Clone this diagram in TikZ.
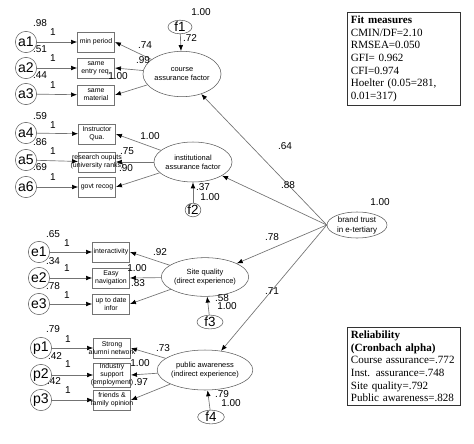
\documentclass[tikz,border=0pt]{standalone}
\usepackage{fontspec}
\setmainfont{Liberation Sans}
\newfontfamily\timesf{Liberation Serif}
\usetikzlibrary{arrows.meta,shapes.geometric,positioning}

\begin{document}
\begin{tikzpicture}[x=0.75pt,y=-0.75pt]
\tikzset{
  errnode/.style={circle,draw=black!65,minimum size=16pt,inner sep=0pt,font=\fontsize{10.5}{11}\selectfont},
  disnode/.style={ellipse,draw=black!65,inner sep=0pt,font=\fontsize{10}{11}\selectfont},
  itembox/.style={rectangle,draw=black!55,minimum width=28pt,minimum height=15pt,inner xsep=-8pt,inner ysep=0.5pt,align=center,font=\fontsize{5.2}{5.9}\selectfont},
  factor/.style={ellipse,draw=black!65,inner sep=0pt,align=center,font=\fontsize{5.6}{7}\selectfont},
  coef/.style={inner sep=0pt,font=\fontsize{7.5}{8}\selectfont},
  infobox/.style={rectangle,draw=black!80,thick,text width=80pt,inner sep=2.5pt,align=left,font=\timesf\fontsize{8.3}{9.5}\selectfont},
  directed/.style={draw=black!55,-{Latex[length=4.5pt,width=3.5pt,color=black]},line width=0.5pt}
}
\useasboundingbox (0,0) rectangle (474,443);
% error terms
\node[errnode] (n_a1) at (26,42) {a1};
\node[errnode] (n_a2) at (26,68) {a2};
\node[errnode] (n_a3) at (26,94) {a3};
\node[errnode] (n_a4) at (26,133) {a4};
\node[errnode] (n_a5) at (26,160) {a5};
\node[errnode] (n_a6) at (26,187) {a6};
\node[errnode] (n_e1) at (39,252) {e1};
\node[errnode] (n_e2) at (39,278) {e2};
\node[errnode] (n_e3) at (39,304) {e3};
\node[errnode] (n_p1) at (41,348) {p1};
\node[errnode] (n_p2) at (41,375) {p2};
\node[errnode] (n_p3) at (41,400) {p3};
% observed items
\node[itembox] (n_minper) at (96,42) {min period};
\node[itembox] (n_entry) at (96,68) {same\\entry req.};
\node[itembox] (n_mater) at (96,95) {same\\material};
\node[itembox] (n_instr) at (97,134) {Instructor\\Qua.};
\node[itembox] (n_resea) at (97,162) {research ouputs\\(university ranks)};
\node[itembox] (n_govt) at (97,187) {govt recog};
\node[itembox] (n_inter) at (111,252) {interactivity};
\node[itembox] (n_easy) at (111,278) {Easy\\navigation};
\node[itembox] (n_uptod) at (111,304) {up to date\\infor};
\node[itembox] (n_alumn) at (112,348) {Strong\\alumni network};
\node[itembox,minimum height=18pt] (n_indus) at (112,375) {Industry\\support\\(employment)};
\node[itembox] (n_frien) at (112,400) {friends \&\\family opinion};
% latent factors
\node[factor,minimum width=46pt,minimum height=34pt] (n_fc) at (182,74) {course\\assurance factor};
\node[factor,minimum width=55pt,minimum height=30pt] (n_fi) at (193,162) {institutional\\assurance factor};
\node[factor,minimum width=52pt,minimum height=29pt] (n_fs) at (205,277) {Site quality\\(direct experience)};
\node[factor,minimum width=53pt,minimum height=30pt] (n_fp) at (205,370) {public awareness\\(indirect experience)};
\node[factor,minimum width=45pt,minimum height=19.5pt,font=\fontsize{6}{7.5}\selectfont] (n_bt) at (357,225) {brand trust\\in e-tertiary};
% disturbances
\node[disnode,minimum width=18pt,minimum height=10pt] (n_f1) at (180,27) {f1};
\node[disnode,minimum width=11pt,minimum height=9pt] (n_f2) at (193,210) {f2};
\node[disnode,minimum width=19.5pt,minimum height=8pt] (n_f3) at (210,322) {f3};
\node[disnode,minimum width=20pt,minimum height=8pt] (n_f4) at (211,417) {f4};
% info boxes
\node[infobox,anchor=north west] (n_fit) at (347,12) {\textbf{Fit measures}\\CMIN/DF=2.10\\RMSEA=0.050\\GFI= 0.962\\CFI=0.974\\Hoelter (0.05=281,\\0.01=317)};
\node[infobox,anchor=north west] (n_rel) at (347,327) {\textbf{Reliability}\\\textbf{(Cronbach alpha)}\\Course assurance=.772\\Inst. assurance=.748\\Site quality=.792\\Public awareness=.828};
% error paths
\draw[directed] (n_a1) -- (n_minper);
\draw[directed] (n_a2) -- (n_entry);
\draw[directed] (n_a3) -- (n_mater);
\draw[directed] (n_a4) -- (n_instr);
\draw[directed] (n_a5) -- (n_resea);
\draw[directed] (n_a6) -- (n_govt);
\draw[directed] (n_e1) -- (n_inter);
\draw[directed] (n_e2) -- (n_easy);
\draw[directed] (n_e3) -- (n_uptod);
\draw[directed] (n_p1) -- (n_alumn);
\draw[directed] (n_p2) -- (n_indus);
\draw[directed] (n_p3) -- (n_frien);
% loadings
\draw[directed] (n_fc) -- (n_minper.east);
\draw[directed] (n_fc) -- (n_entry.east);
\draw[directed] (n_fc) -- (n_mater.east);
\draw[directed] (n_fi) -- (n_instr.east);
\draw[directed] (n_fi) -- (n_resea.east);
\draw[directed] (n_fi) -- (n_govt.east);
\draw[directed] (n_fs) -- (n_inter.east);
\draw[directed] (n_fs) -- (n_easy.east);
\draw[directed] (n_fs) -- (n_uptod.east);
\draw[directed] (n_fp) -- (n_alumn.east);
\draw[directed] (n_fp) -- (n_indus.east);
\draw[directed] (n_fp) -- (n_frien.east);
% disturbance paths
\draw[directed] (n_f1) -- (n_fc);
\draw[directed] (n_f2) -- (n_fi);
\draw[directed] (n_f3) -- (n_fs);
\draw[directed] (n_f4) -- (n_fp);
% structural paths
\draw[directed] (n_bt.west) -- (n_fc);
\draw[directed] (n_bt.west) -- (n_fi);
\draw[directed] (n_bt.west) -- (n_fs);
\draw[directed] (n_bt.west) -- (n_fp);
% estimates
\node[coef] (v_a1) at (40,23) {.98};
\node[coef] (w_a1) at (53,32) {1};
\node[coef] (v_a2) at (40,49) {.51};
\node[coef] (w_a2) at (53,58) {1};
\node[coef] (v_a3) at (40,75) {.44};
\node[coef] (w_a3) at (53,85) {1};
\node[coef] (v_a4) at (40,116) {.59};
\node[coef] (w_a4) at (53,125) {1};
\node[coef] (v_a5) at (40,142) {.86};
\node[coef] (w_a5) at (53,151) {1};
\node[coef] (v_a6) at (40,167) {.69};
\node[coef] (w_a6) at (53,177) {1};
\node[coef] (v_e1) at (53,234) {.65};
\node[coef] (w_e1) at (67,243) {1};
\node[coef] (v_e2) at (53,261) {.34};
\node[coef] (w_e2) at (67,268) {1};
\node[coef] (v_e3) at (53,286) {.78};
\node[coef] (w_e3) at (67,295) {1};
\node[coef] (v_p1) at (53,329) {.79};
\node[coef] (w_p1) at (68,339) {1};
\node[coef] (v_p2) at (55,356) {.42};
\node[coef] (w_p2) at (68,364) {1};
\node[coef] (v_p3) at (54,381) {.42};
\node[coef] (w_p3) at (68,390) {1};
\node[coef] (l_minper) at (145,45) {.74};
\node[coef] (l_entry) at (143,60) {.99};
\node[coef] (l_mater) at (118,76) {1.00};
\node[coef] (v_f1) at (201,12) {1.00};
\node[coef] (r_fc) at (190,38) {.72};
\node[coef] (l_instr) at (150,136) {1.00};
\node[coef] (l_resea) at (127,151) {.75};
\node[coef] (l_govt) at (126,168) {.90};
\node[coef] (r_fi) at (203,187) {.37};
\node[coef] (v_f2) at (210,197) {1.00};
\node[coef] (l_inter) at (160,252) {.92};
\node[coef] (l_easy) at (137,268) {1.00};
\node[coef] (l_uptod) at (138,283) {.83};
\node[coef] (r_fs) at (222,298) {.58};
\node[coef] (v_f3) at (227,306) {1.00};
\node[coef] (l_alumn) at (163,348) {.73};
\node[coef] (l_indus) at (140,363) {1.00};
\node[coef] (l_frien) at (141,382) {.97};
\node[coef] (r_fp) at (222,394) {.79};
\node[coef] (v_f4) at (231,403) {1.00};
\node[coef] (v_bt) at (380,202) {1.00};
\node[coef] (s_fc) at (285,146) {.64};
\node[coef] (s_fi) at (288,185) {.88};
\node[coef] (s_fs) at (272,237) {.78};
\node[coef] (s_fp) at (272,291) {.71};
\end{tikzpicture}
\end{document}
